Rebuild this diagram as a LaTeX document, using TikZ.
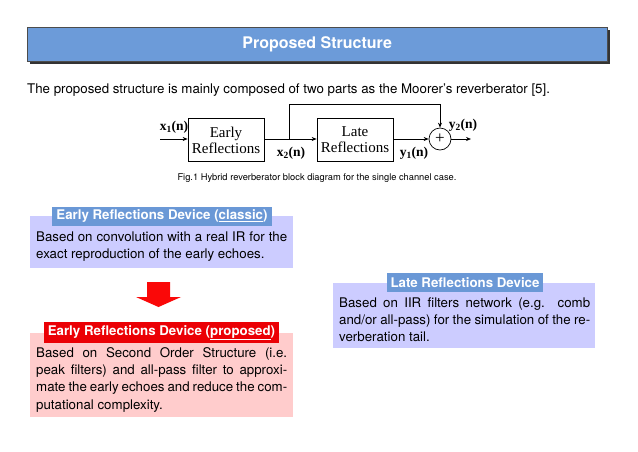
\documentclass[tikz,border=0pt]{standalone}
\usepackage{fontspec}
\setmainfont{TeX Gyre Heros}
\newfontfamily\diagfont{Liberation Serif}
\usetikzlibrary{arrows.meta,positioning,calc}
\definecolor{barblue}{RGB}{108,155,217}
\definecolor{tabblue}{RGB}{106,152,214}
\definecolor{lavender}{RGB}{204,204,255}
\definecolor{rosebox}{RGB}{255,204,204}
\definecolor{tabred}{RGB}{235,0,5}
\definecolor{arrowred}{RGB}{250,8,8}
\begin{document}
\begin{tikzpicture}[x=1pt,y=-1pt,
blk/.style={draw,line width=0.7pt,minimum width=76,minimum height=43,align=center,
  inner sep=1pt,font=\diagfont\fontsize{15}{16}\selectfont},
sumc/.style={circle,draw,line width=0.7pt,minimum size=22,inner sep=0pt,
  font=\diagfont\fontsize{17}{17}\selectfont},
sig/.style={font=\diagfont\bfseries\fontsize{13.5}{13.5}\selectfont,inner sep=1pt},
link/.style={line width=0.7pt,-{Stealth[length=5pt,width=4pt]}},
bodybox/.style={minimum width=263,inner sep=0pt,anchor=north west},
tabbox/.style={text=white,font=\bfseries\fontsize{13.3}{13.3}\selectfont,inner xsep=4pt,
  minimum height=19,inner ysep=0pt},
bodytext/.style={text width=251,align=justify,inner sep=0pt,anchor=north west,
  font=\fontsize{13.3}{17.2}\selectfont}]
\useasboundingbox (0,0) rectangle (638,451);

% title bar
\fill[black!80] (30,30) rectangle (610,64);
\node[draw=black!70,fill=barblue,minimum width=580,minimum height=34,inner sep=0pt,
  anchor=north west,text=white,font=\bfseries\fontsize{16}{16}\selectfont] (title) at (27,27)
  {Proposed Structure};
\node[anchor=base west,inner sep=0pt,font=\fontsize{13.3}{13.3}\selectfont] (intro) at (27,93)
  {The proposed structure is mainly composed of two parts as the Moorer's reverberator [5].};

% block diagram
\node[blk] (early) at (226,140) {Early\\Reflections};
\node[blk] (late) at (355,140) {Late\\Reflections};
\node[sumc] (sum) at (440,139) {+};
\coordinate (in) at (160,139);
\coordinate (out) at (471,139);
\coordinate (branch) at (289,139);
\coordinate (top) at (289,104);
\draw[link] (in) -- (in -| early.west);
\draw[link] (early.east |- branch) -- (late.west |- branch);
\draw[link] (branch) -- (top) -| (sum.north);
\draw[link] (late.east |- sum) -- (sum);
\draw[link] (sum) -- (out);
\node[sig] (x1) at (174,127) {x\textsubscript{1}(n)};
\node[sig] (x2) at (291,153) {x\textsubscript{2}(n)};
\node[sig] (y1) at (414,153) {y\textsubscript{1}(n)};
\node[sig] (y2) at (463,125) {y\textsubscript{2}(n)};
\node[font=\fontsize{9.3}{9.3}\selectfont] (cap) at (317,178)
  {Fig.1 Hybrid reverberator block diagram for the single channel case.};

% early reflections (classic)
\node[bodybox,fill=lavender,minimum height=52] (b1) at (30,216) {};
\node[tabbox,fill=tabblue] (h1) at (162,216) {Early Reflections Device (\underline{classic})};
\node[bodytext] (t1) at ([shift={(6,15.4)}]b1.north west)
  {Based on convolution with a real IR for the\linebreak exact reproduction of the early echoes.};

% arrow down
\fill[arrowred] (147,282) -- (170,282) -- (170,297) -- (181,297) -- (158.5,307)
  -- (136,297) -- (147,297) -- cycle;

% early reflections (proposed)
\node[bodybox,fill=rosebox,minimum height=84] (b2) at (30,333) {};
\node[tabbox,fill=tabred,minimum height=21] (h2) at (161.5,332.5) {Early Reflections Device (\underline{proposed})};
\node[bodytext] (t2) at ([shift={(6,14.4)}]b2.north west)
  {Based on Second Order Structure (i.e.\linebreak peak filters) and all-pass filter to approxi-\linebreak
   mate the early echoes and reduce the com-\linebreak putational complexity.};

% late reflections
\node[bodybox,fill=lavender,minimum width=262,minimum height=65] (b3) at (333,283) {};
\node[tabbox,fill=tabblue] (h3) at (465,282.5) {Late Reflections Device};
\node[bodytext] (t3) at ([shift={(6,14.4)}]b3.north west)
  {Based on IIR filters network (e.g. comb\linebreak and/or all-pass) for the simulation of the re-\linebreak
   verberation tail.};
\end{tikzpicture}
\end{document}
